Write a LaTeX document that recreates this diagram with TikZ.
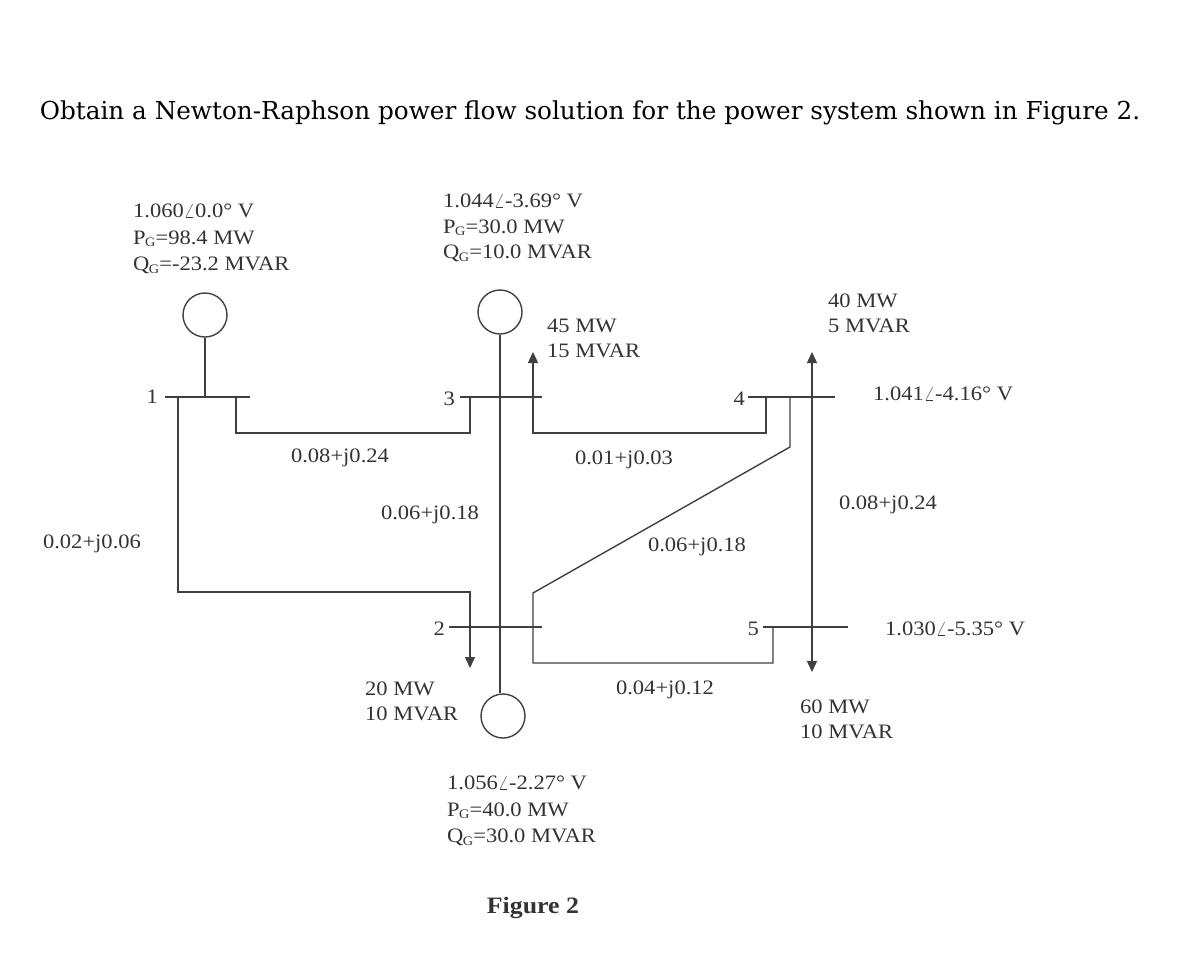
\documentclass[tikz,border=0pt]{standalone}
\usepackage{fontspec}
\setmainfont{Liberation Serif}[FakeStretch=1.1]
\newfontfamily\titlefont{DejaVu Serif}
\usetikzlibrary{arrows.meta}
\newcommand{\sG}{\kern-0.5pt\raisebox{-0.25ex}{\fontsize{13}{13}\selectfont G}}
\newcommand{\ang}{\ensuremath{\angle}}
\begin{document}
\begin{tikzpicture}[x=1pt,y=-1pt,
  ln/.style={draw=black!75,line width=1.4pt},
  bar/.style={draw=black!75,line width=1.6pt},
  gen/.style={circle,draw=black!75,line width=1.4pt,minimum size=44pt,inner sep=0pt},
  ld/.style={ln,-{Triangle[length=11pt,width=10pt]}},
  t/.style={font=\fontsize{20.5}{25}\selectfont,text=black!80,inner sep=0pt,align=left},
  lbl/.style={t,anchor=west}]
\useasboundingbox (0,0) rectangle (1179,978);
\node[font=\titlefont\fontsize{24.7}{30}\selectfont,inner sep=0pt] (title) at (590,113) {Obtain a Newton-Raphson power flow solution for the power system shown in Figure 2.};
% generators
\node[gen] (g1) at (205,315) {};
\node[gen] (g3) at (500,312) {};
\node[gen] (g2) at (503,716) {};
% bus bars
\coordinate (b1l) at (165,397); \coordinate (b1r) at (250,397);
\coordinate (b3l) at (460,397); \coordinate (b3r) at (542,397);
\coordinate (b4l) at (748,397); \coordinate (b4r) at (835,397);
\coordinate (b2l) at (449,627); \coordinate (b2r) at (542,627);
\coordinate (b5l) at (763,627); \coordinate (b5r) at (848,627);
\draw[bar] (b1l) -- (b1r); \draw[bar] (b3l) -- (b3r); \draw[bar] (b4l) -- (b4r);
\draw[bar] (b2l) -- (b2r); \draw[bar] (b5l) -- (b5r);
% generator connections
\draw[ln] (g1.south) -- (205,397);
\draw[ln] (g3.south) -- (g3.south |- g2.north) coordinate (g2t);
% lines
\draw[ln] (236,397) |- (470,433) -- (470,397);
\draw[ln] (178,397) |- (470,592) -- (470,627);
\draw[ln] (533,397) |- (766,433) -- (766,397);
\draw[ln] (790,397) -- (790,447) -- (533,593) -- (533,663) -| (773,627);
\draw[ld] (533,397) -- (533,352);
\draw[ld] (470,627) -- (470,668);
\draw[ln,{Triangle[length=11pt,width=10pt]}-{Triangle[length=11pt,width=10pt]}] (812,352) -- (812,672);
% bus numbers
\node[t,anchor=east] (n1) at (158,397) {1};
\node[t,anchor=east] (n3) at (455,399) {3};
\node[t,anchor=east] (n4) at (745,399) {4};
\node[t,anchor=east] (n2) at (445,629) {2};
\node[t,anchor=east] (n5) at (759,629) {5};
% impedances
\node[t] (z13) at (340,458) {0.08+j0.24};
\node[t] (z34) at (624,460) {0.01+j0.03};
\node[t] (z23) at (430,515) {0.06+j0.18};
\node[t] (z24) at (697,547) {0.06+j0.18};
\node[t] (z12) at (92,544) {0.02+j0.06};
\node[t] (z45) at (888,505) {0.08+j0.24};
\node[t] (z25) at (665,690) {0.04+j0.12};
% bus data
\node[lbl] (v4) at (873,394) {1.041\ang-4.16\textdegree\ V};
\node[lbl] (v5) at (885,629) {1.030\ang-5.35\textdegree\ V};
\node[lbl] (l4) at (828,313) {40 MW\\5 MVAR};
\node[lbl] (l3) at (547,338) {45 MW\\15 MVAR};
\node[lbl] (l2) at (365,701) {20 MW\\10 MVAR};
\node[lbl] (l5) at (800,719) {60 MW\\10 MVAR};
\node[lbl,font=\fontsize{20.5}{26.5}\selectfont] (d2) at (447,811) {1.056\ang-2.27\textdegree\ V\\P\sG=40.0 MW\\Q\sG=30.0 MVAR};
\node[lbl,font=\fontsize{20.5}{26.5}\selectfont] (d1) at (133,239) {1.060\ang0.0\textdegree\ V\\P\sG=98.4 MW\\Q\sG=-23.2 MVAR};
\node[lbl,font=\fontsize{20.5}{25.5}\selectfont] (d3) at (443,228) {1.044\ang-3.69\textdegree\ V\\P\sG=30.0 MW\\Q\sG=10.0 MVAR};
\node[t,font=\bfseries\fontsize{23.5}{25}\selectfont] (fig) at (533,908) {Figure 2};
\end{tikzpicture}
\end{document}
